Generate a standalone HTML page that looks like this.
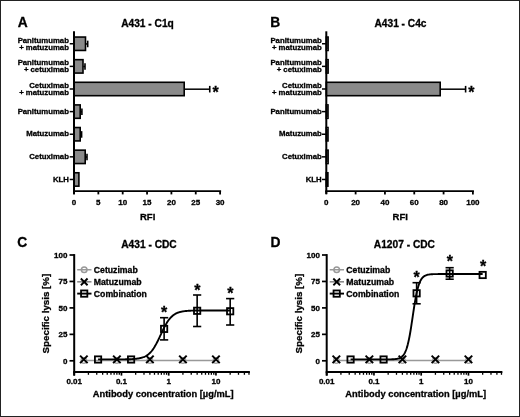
<!DOCTYPE html>
<html><head><meta charset="utf-8"><title>Figure</title>
<style>
html,body{margin:0;padding:0;background:#fff;}
body{width:520px;height:417px;overflow:hidden;}
svg{display:block;font-family:"Liberation Sans",sans-serif;font-weight:bold;fill:#000;} text{stroke:#000;stroke-width:0.3px;}
</style></head><body>
<svg width="520" height="417" viewBox="0 0 520 417">
<rect x="0" y="0" width="520" height="417" fill="#fff"/>
<line x1="85.80" y1="43.95" x2="87.70" y2="43.95" stroke="#000" stroke-width="1.5" />
<line x1="87.70" y1="40.65" x2="87.70" y2="47.25" stroke="#000" stroke-width="1.6" />
<rect x="74.00" y="37.05" width="11.50" height="13.4" fill="#8a8a8a" stroke="#000" stroke-width="1.6"/>
<line x1="69.70" y1="43.75" x2="74.00" y2="43.75" stroke="#000" stroke-width="1.5" />
<text x="68.90" y="43.25" font-size="7.75" text-anchor="end" >Panitumumab</text>
<text x="68.90" y="50.25" font-size="7.75" text-anchor="end" >+ matuzumab</text>
<line x1="83.30" y1="66.57" x2="85.00" y2="66.57" stroke="#000" stroke-width="1.5" />
<line x1="85.00" y1="63.27" x2="85.00" y2="69.87" stroke="#000" stroke-width="1.6" />
<rect x="74.00" y="59.67" width="9.00" height="13.4" fill="#8a8a8a" stroke="#000" stroke-width="1.6"/>
<line x1="69.70" y1="66.37" x2="74.00" y2="66.37" stroke="#000" stroke-width="1.5" />
<text x="68.90" y="65.07" font-size="7.75" text-anchor="end" >Panitumumab</text>
<text x="68.90" y="72.07" font-size="7.75" text-anchor="end" >+ cetuximab</text>
<line x1="184.50" y1="89.19" x2="209.75" y2="89.19" stroke="#000" stroke-width="1.5" />
<line x1="209.75" y1="85.89" x2="209.75" y2="92.49" stroke="#000" stroke-width="1.6" />
<rect x="74.00" y="82.29" width="110.20" height="13.4" fill="#8a8a8a" stroke="#000" stroke-width="1.6"/>
<line x1="69.70" y1="88.99" x2="74.00" y2="88.99" stroke="#000" stroke-width="1.5" />
<text x="68.90" y="87.69" font-size="7.75" text-anchor="end" >Cetuximab</text>
<text x="68.90" y="94.69" font-size="7.75" text-anchor="end" >+ matuzumab</text>
<line x1="80.50" y1="111.81" x2="81.90" y2="111.81" stroke="#000" stroke-width="1.5" />
<line x1="81.90" y1="108.51" x2="81.90" y2="115.11" stroke="#000" stroke-width="1.6" />
<rect x="74.00" y="104.91" width="6.20" height="13.4" fill="#8a8a8a" stroke="#000" stroke-width="1.6"/>
<line x1="69.70" y1="111.61" x2="74.00" y2="111.61" stroke="#000" stroke-width="1.5" />
<text x="68.90" y="114.06" font-size="7.75" text-anchor="end" >Panitumumab</text>
<line x1="80.50" y1="134.43" x2="81.60" y2="134.43" stroke="#000" stroke-width="1.5" />
<line x1="81.60" y1="131.13" x2="81.60" y2="137.73" stroke="#000" stroke-width="1.6" />
<rect x="74.00" y="127.53" width="6.20" height="13.4" fill="#8a8a8a" stroke="#000" stroke-width="1.6"/>
<line x1="69.70" y1="134.23" x2="74.00" y2="134.23" stroke="#000" stroke-width="1.5" />
<text x="68.90" y="135.98" font-size="7.75" text-anchor="end" >Matuzumab</text>
<line x1="85.50" y1="157.05" x2="87.00" y2="157.05" stroke="#000" stroke-width="1.5" />
<line x1="87.00" y1="153.75" x2="87.00" y2="160.35" stroke="#000" stroke-width="1.6" />
<rect x="74.00" y="150.15" width="11.20" height="13.4" fill="#8a8a8a" stroke="#000" stroke-width="1.6"/>
<line x1="69.70" y1="156.85" x2="74.00" y2="156.85" stroke="#000" stroke-width="1.5" />
<text x="68.90" y="159.00" font-size="7.75" text-anchor="end" >Cetuximab</text>
<rect x="74.00" y="172.77" width="4.90" height="13.4" fill="#8a8a8a" stroke="#000" stroke-width="1.6"/>
<line x1="69.70" y1="179.47" x2="74.00" y2="179.47" stroke="#000" stroke-width="1.5" />
<text x="68.90" y="181.92" font-size="7.75" text-anchor="end" >KLH</text>
<line x1="74.00" y1="31.30" x2="74.00" y2="193.90" stroke="#000" stroke-width="2.0" />
<line x1="73.00" y1="191.10" x2="221.10" y2="191.10" stroke="#000" stroke-width="1.8" />
<line x1="74.00" y1="191.10" x2="74.00" y2="194.40" stroke="#000" stroke-width="1.8" />
<text x="74.00" y="204.90" font-size="8.0" text-anchor="middle" >0</text>
<line x1="98.35" y1="191.10" x2="98.35" y2="194.40" stroke="#000" stroke-width="1.8" />
<text x="98.35" y="204.90" font-size="8.0" text-anchor="middle" >5</text>
<line x1="122.70" y1="191.10" x2="122.70" y2="194.40" stroke="#000" stroke-width="1.8" />
<text x="122.70" y="204.90" font-size="8.0" text-anchor="middle" >10</text>
<line x1="147.05" y1="191.10" x2="147.05" y2="194.40" stroke="#000" stroke-width="1.8" />
<text x="147.05" y="204.90" font-size="8.0" text-anchor="middle" >15</text>
<line x1="171.40" y1="191.10" x2="171.40" y2="194.40" stroke="#000" stroke-width="1.8" />
<text x="171.40" y="204.90" font-size="8.0" text-anchor="middle" >20</text>
<line x1="195.75" y1="191.10" x2="195.75" y2="194.40" stroke="#000" stroke-width="1.8" />
<text x="195.75" y="204.90" font-size="8.0" text-anchor="middle" >25</text>
<line x1="220.10" y1="191.10" x2="220.10" y2="194.40" stroke="#000" stroke-width="1.8" />
<text x="220.10" y="204.90" font-size="8.0" text-anchor="middle" >30</text>
<text x="147.65" y="220.30" font-size="9.5" text-anchor="middle" >RFI</text>
<text x="147.50" y="27.40" font-size="10.2" text-anchor="middle" >A431 - C1q</text>
<text x="17.70" y="27.40" font-size="13.8" text-anchor="start" >A</text>
<text x="215.50" y="98.30" font-size="16" text-anchor="middle" >*</text>
<rect x="326.30" y="37.05" width="1.80" height="13.4" fill="#8a8a8a" stroke="#000" stroke-width="1.6"/>
<line x1="322.00" y1="43.75" x2="326.30" y2="43.75" stroke="#000" stroke-width="1.5" />
<text x="321.70" y="43.25" font-size="7.75" text-anchor="end" >Panitumumab</text>
<text x="321.70" y="50.25" font-size="7.75" text-anchor="end" >+ matuzumab</text>
<rect x="326.30" y="59.67" width="1.80" height="13.4" fill="#8a8a8a" stroke="#000" stroke-width="1.6"/>
<line x1="322.00" y1="66.37" x2="326.30" y2="66.37" stroke="#000" stroke-width="1.5" />
<text x="321.70" y="65.07" font-size="7.75" text-anchor="end" >Panitumumab</text>
<text x="321.70" y="72.07" font-size="7.75" text-anchor="end" >+ cetuximab</text>
<line x1="440.50" y1="89.19" x2="465.60" y2="89.19" stroke="#000" stroke-width="1.5" />
<line x1="465.60" y1="85.89" x2="465.60" y2="92.49" stroke="#000" stroke-width="1.6" />
<rect x="326.30" y="82.29" width="113.90" height="13.4" fill="#8a8a8a" stroke="#000" stroke-width="1.6"/>
<line x1="322.00" y1="88.99" x2="326.30" y2="88.99" stroke="#000" stroke-width="1.5" />
<text x="321.70" y="87.69" font-size="7.75" text-anchor="end" >Cetuximab</text>
<text x="321.70" y="94.69" font-size="7.75" text-anchor="end" >+ matuzumab</text>
<rect x="326.30" y="104.91" width="1.70" height="13.4" fill="#8a8a8a" stroke="#000" stroke-width="1.6"/>
<line x1="322.00" y1="111.61" x2="326.30" y2="111.61" stroke="#000" stroke-width="1.5" />
<text x="321.70" y="114.06" font-size="7.75" text-anchor="end" >Panitumumab</text>
<rect x="326.30" y="127.53" width="1.70" height="13.4" fill="#8a8a8a" stroke="#000" stroke-width="1.6"/>
<line x1="322.00" y1="134.23" x2="326.30" y2="134.23" stroke="#000" stroke-width="1.5" />
<text x="321.70" y="135.98" font-size="7.75" text-anchor="end" >Matuzumab</text>
<rect x="326.30" y="150.15" width="1.80" height="13.4" fill="#8a8a8a" stroke="#000" stroke-width="1.6"/>
<line x1="322.00" y1="156.85" x2="326.30" y2="156.85" stroke="#000" stroke-width="1.5" />
<text x="321.70" y="159.00" font-size="7.75" text-anchor="end" >Cetuximab</text>
<rect x="326.30" y="172.77" width="1.60" height="13.4" fill="#8a8a8a" stroke="#000" stroke-width="1.6"/>
<line x1="322.00" y1="179.47" x2="326.30" y2="179.47" stroke="#000" stroke-width="1.5" />
<text x="321.70" y="181.92" font-size="7.75" text-anchor="end" >KLH</text>
<line x1="326.30" y1="31.30" x2="326.30" y2="193.90" stroke="#000" stroke-width="2.0" />
<line x1="325.30" y1="191.10" x2="473.90" y2="191.10" stroke="#000" stroke-width="1.8" />
<line x1="326.30" y1="191.10" x2="326.30" y2="194.40" stroke="#000" stroke-width="1.8" />
<text x="326.30" y="204.90" font-size="8.0" text-anchor="middle" >0</text>
<line x1="355.62" y1="191.10" x2="355.62" y2="194.40" stroke="#000" stroke-width="1.8" />
<text x="355.62" y="204.90" font-size="8.0" text-anchor="middle" >20</text>
<line x1="384.94" y1="191.10" x2="384.94" y2="194.40" stroke="#000" stroke-width="1.8" />
<text x="384.94" y="204.90" font-size="8.0" text-anchor="middle" >40</text>
<line x1="414.26" y1="191.10" x2="414.26" y2="194.40" stroke="#000" stroke-width="1.8" />
<text x="414.26" y="204.90" font-size="8.0" text-anchor="middle" >60</text>
<line x1="443.58" y1="191.10" x2="443.58" y2="194.40" stroke="#000" stroke-width="1.8" />
<text x="443.58" y="204.90" font-size="8.0" text-anchor="middle" >80</text>
<line x1="472.90" y1="191.10" x2="472.90" y2="194.40" stroke="#000" stroke-width="1.8" />
<text x="472.90" y="204.90" font-size="8.0" text-anchor="middle" >100</text>
<text x="400.20" y="220.30" font-size="9.5" text-anchor="middle" >RFI</text>
<text x="400.50" y="27.40" font-size="10.2" text-anchor="middle" >A431 - C4c</text>
<text x="270.30" y="27.40" font-size="13.8" text-anchor="start" >B</text>
<text x="471.30" y="98.30" font-size="16" text-anchor="middle" >*</text>
<line x1="83.84" y1="360.50" x2="215.95" y2="360.50" stroke="#999" stroke-width="1.3" />
<circle cx="83.84" cy="360.50" r="2.8" fill="none" stroke="#a0a0a0" stroke-width="1.3"/>
<circle cx="116.87" cy="360.50" r="2.8" fill="none" stroke="#a0a0a0" stroke-width="1.3"/>
<circle cx="149.90" cy="360.50" r="2.8" fill="none" stroke="#a0a0a0" stroke-width="1.3"/>
<circle cx="182.92" cy="360.50" r="2.8" fill="none" stroke="#a0a0a0" stroke-width="1.3"/>
<circle cx="215.95" cy="360.50" r="2.8" fill="none" stroke="#a0a0a0" stroke-width="1.3"/>
<polyline points="98.07,359.42 98.62,359.42 99.17,359.42 99.72,359.42 100.27,359.42 100.82,359.42 101.37,359.42 101.92,359.42 102.47,359.42 103.02,359.42 103.57,359.42 104.12,359.42 104.67,359.42 105.22,359.42 105.77,359.42 106.32,359.42 106.88,359.42 107.43,359.42 107.98,359.42 108.53,359.42 109.08,359.42 109.63,359.42 110.18,359.42 110.73,359.42 111.28,359.42 111.83,359.42 112.38,359.41 112.93,359.41 113.48,359.41 114.03,359.41 114.58,359.41 115.13,359.41 115.68,359.41 116.23,359.40 116.78,359.40 117.33,359.40 117.88,359.40 118.43,359.39 118.99,359.39 119.54,359.39 120.09,359.38 120.64,359.38 121.19,359.38 121.74,359.37 122.29,359.37 122.84,359.36 123.39,359.35 123.94,359.35 124.49,359.34 125.04,359.33 125.59,359.32 126.14,359.31 126.69,359.30 127.24,359.29 127.79,359.27 128.34,359.26 128.89,359.24 129.44,359.22 129.99,359.20 130.54,359.18 131.09,359.15 131.65,359.12 132.20,359.09 132.75,359.06 133.30,359.02 133.85,358.98 134.40,358.94 134.95,358.89 135.50,358.84 136.05,358.78 136.60,358.71 137.15,358.64 137.70,358.56 138.25,358.48 138.80,358.38 139.35,358.28 139.90,358.17 140.45,358.04 141.00,357.91 141.55,357.76 142.10,357.60 142.65,357.42 143.20,357.23 143.75,357.01 144.31,356.78 144.86,356.53 145.41,356.26 145.96,355.96 146.51,355.63 147.06,355.28 147.61,354.90 148.16,354.49 148.71,354.04 149.26,353.56 149.81,353.05 150.36,352.49 150.91,351.90 151.46,351.26 152.01,350.58 152.56,349.86 153.11,349.10 153.66,348.29 154.21,347.43 154.76,346.54 155.31,345.60 155.86,344.62 156.41,343.61 156.97,342.55 157.52,341.47 158.07,340.36 158.62,339.22 159.17,338.07 159.72,336.90 160.27,335.72 160.82,334.54 161.37,333.36 161.92,332.18 162.47,331.02 163.02,329.88 163.57,328.76 164.12,327.67 164.67,326.60 165.22,325.58 165.77,324.59 166.32,323.63 166.87,322.72 167.42,321.86 167.97,321.03 168.52,320.25 169.07,319.52 169.63,318.82 170.18,318.17 170.73,317.57 171.28,317.00 171.83,316.47 172.38,315.98 172.93,315.52 173.48,315.10 174.03,314.70 174.58,314.34 175.13,314.01 175.68,313.70 176.23,313.42 176.78,313.16 177.33,312.92 177.88,312.71 178.43,312.51 178.98,312.32 179.53,312.16 180.08,312.00 180.63,311.86 181.18,311.74 181.74,311.62 182.29,311.51 182.84,311.42 183.39,311.33 183.94,311.25 184.49,311.17 185.04,311.11 185.59,311.05 186.14,310.99 186.69,310.94 187.24,310.90 187.79,310.85 188.34,310.82 188.89,310.78 189.44,310.75 189.99,310.72 190.54,310.70 191.09,310.67 191.64,310.65 192.19,310.63 192.74,310.61 193.29,310.60 193.84,310.58 194.40,310.57 194.95,310.56 195.50,310.55 196.05,310.54 196.60,310.53 197.15,310.52 197.70,310.51 198.25,310.51 198.80,310.50 199.35,310.49 199.90,310.49 200.45,310.48 201.00,310.48 201.55,310.48 202.10,310.47 202.65,310.47 203.20,310.47 203.75,310.46 204.30,310.46 204.85,310.46 205.40,310.46 205.95,310.46 206.50,310.45 207.06,310.45 207.61,310.45 208.16,310.45 208.71,310.45 209.26,310.45 209.81,310.45 210.36,310.45 210.91,310.45 211.46,310.45 212.01,310.45 212.56,310.44 213.11,310.44 213.66,310.44 214.21,310.44 214.76,310.44 215.31,310.44 215.86,310.44 216.41,310.44 216.96,310.44 217.51,310.44 218.06,310.44 218.61,310.44 219.16,310.44 219.72,310.44 220.27,310.44 220.82,310.44 221.37,310.44 221.92,310.44 222.47,310.44 223.02,310.44 223.57,310.44 224.12,310.44 224.67,310.44 225.22,310.44 225.77,310.44 226.32,310.44 226.87,310.44 227.42,310.44 227.97,310.44 228.52,310.44 229.07,310.44 229.62,310.44 230.17,310.44" fill="none" stroke="#000" stroke-width="1.9"/>
<line x1="80.79" y1="356.35" x2="86.89" y2="362.45" stroke="#000" stroke-width="2.0" stroke-linecap="square"/>
<line x1="80.79" y1="362.45" x2="86.89" y2="356.35" stroke="#000" stroke-width="2.0" stroke-linecap="square"/>
<line x1="113.82" y1="356.35" x2="119.92" y2="362.45" stroke="#000" stroke-width="2.0" stroke-linecap="square"/>
<line x1="113.82" y1="362.45" x2="119.92" y2="356.35" stroke="#000" stroke-width="2.0" stroke-linecap="square"/>
<line x1="146.85" y1="356.35" x2="152.95" y2="362.45" stroke="#000" stroke-width="2.0" stroke-linecap="square"/>
<line x1="146.85" y1="362.45" x2="152.95" y2="356.35" stroke="#000" stroke-width="2.0" stroke-linecap="square"/>
<line x1="179.87" y1="356.35" x2="185.97" y2="362.45" stroke="#000" stroke-width="2.0" stroke-linecap="square"/>
<line x1="179.87" y1="362.45" x2="185.97" y2="356.35" stroke="#000" stroke-width="2.0" stroke-linecap="square"/>
<line x1="212.90" y1="356.35" x2="219.00" y2="362.45" stroke="#000" stroke-width="2.0" stroke-linecap="square"/>
<line x1="212.90" y1="362.45" x2="219.00" y2="356.35" stroke="#000" stroke-width="2.0" stroke-linecap="square"/>
<rect x="94.92" y="356.35" width="6.3" height="6.3" fill="none" stroke="#000" stroke-width="1.8"/>
<rect x="127.94" y="356.35" width="6.3" height="6.3" fill="none" stroke="#000" stroke-width="1.8"/>
<line x1="164.12" y1="317.70" x2="164.12" y2="339.90" stroke="#000" stroke-width="1.6" />
<line x1="160.02" y1="317.70" x2="168.22" y2="317.70" stroke="#000" stroke-width="1.6" />
<line x1="160.02" y1="339.90" x2="168.22" y2="339.90" stroke="#000" stroke-width="1.6" />
<rect x="160.97" y="325.75" width="6.3" height="6.3" fill="none" stroke="#000" stroke-width="1.8"/>
<line x1="197.15" y1="295.00" x2="197.15" y2="326.50" stroke="#000" stroke-width="1.6" />
<line x1="193.05" y1="295.00" x2="201.25" y2="295.00" stroke="#000" stroke-width="1.6" />
<line x1="193.05" y1="326.50" x2="201.25" y2="326.50" stroke="#000" stroke-width="1.6" />
<rect x="194.00" y="307.65" width="6.3" height="6.3" fill="none" stroke="#000" stroke-width="1.8"/>
<line x1="230.17" y1="298.60" x2="230.17" y2="325.00" stroke="#000" stroke-width="1.6" />
<line x1="226.07" y1="298.60" x2="234.27" y2="298.60" stroke="#000" stroke-width="1.6" />
<line x1="226.07" y1="325.00" x2="234.27" y2="325.00" stroke="#000" stroke-width="1.6" />
<rect x="227.02" y="308.10" width="6.3" height="6.3" fill="none" stroke="#000" stroke-width="1.8"/>
<text x="164.10" y="317.80" font-size="16" text-anchor="middle" >*</text>
<text x="197.30" y="295.60" font-size="16" text-anchor="middle" >*</text>
<text x="230.30" y="298.60" font-size="16" text-anchor="middle" >*</text>
<line x1="74.20" y1="254.10" x2="74.20" y2="375.60" stroke="#000" stroke-width="2.0" />
<line x1="73.20" y1="372.00" x2="249.88" y2="372.00" stroke="#000" stroke-width="1.8" />
<line x1="69.50" y1="360.80" x2="74.20" y2="360.80" stroke="#000" stroke-width="1.7" />
<text x="67.40" y="363.80" font-size="8.0" text-anchor="end" >0</text>
<line x1="69.50" y1="334.35" x2="74.20" y2="334.35" stroke="#000" stroke-width="1.7" />
<text x="67.40" y="337.35" font-size="8.0" text-anchor="end" >25</text>
<line x1="69.50" y1="307.90" x2="74.20" y2="307.90" stroke="#000" stroke-width="1.7" />
<text x="67.40" y="310.90" font-size="8.0" text-anchor="end" >50</text>
<line x1="69.50" y1="281.45" x2="74.20" y2="281.45" stroke="#000" stroke-width="1.7" />
<text x="67.40" y="284.45" font-size="8.0" text-anchor="end" >75</text>
<line x1="69.50" y1="255.00" x2="74.20" y2="255.00" stroke="#000" stroke-width="1.7" />
<text x="67.40" y="258.00" font-size="8.0" text-anchor="end" >100</text>
<line x1="74.20" y1="372.00" x2="74.20" y2="375.60" stroke="#000" stroke-width="1.7" />
<line x1="88.42" y1="372.00" x2="88.42" y2="374.80" stroke="#000" stroke-width="1.3" />
<line x1="96.74" y1="372.00" x2="96.74" y2="374.80" stroke="#000" stroke-width="1.3" />
<line x1="102.65" y1="372.00" x2="102.65" y2="374.80" stroke="#000" stroke-width="1.3" />
<line x1="107.23" y1="372.00" x2="107.23" y2="374.80" stroke="#000" stroke-width="1.3" />
<line x1="110.97" y1="372.00" x2="110.97" y2="374.80" stroke="#000" stroke-width="1.3" />
<line x1="114.13" y1="372.00" x2="114.13" y2="374.80" stroke="#000" stroke-width="1.3" />
<line x1="116.87" y1="372.00" x2="116.87" y2="374.80" stroke="#000" stroke-width="1.3" />
<line x1="119.29" y1="372.00" x2="119.29" y2="374.80" stroke="#000" stroke-width="1.3" />
<line x1="121.45" y1="372.00" x2="121.45" y2="375.60" stroke="#000" stroke-width="1.7" />
<line x1="135.67" y1="372.00" x2="135.67" y2="374.80" stroke="#000" stroke-width="1.3" />
<line x1="143.99" y1="372.00" x2="143.99" y2="374.80" stroke="#000" stroke-width="1.3" />
<line x1="149.90" y1="372.00" x2="149.90" y2="374.80" stroke="#000" stroke-width="1.3" />
<line x1="154.48" y1="372.00" x2="154.48" y2="374.80" stroke="#000" stroke-width="1.3" />
<line x1="158.22" y1="372.00" x2="158.22" y2="374.80" stroke="#000" stroke-width="1.3" />
<line x1="161.38" y1="372.00" x2="161.38" y2="374.80" stroke="#000" stroke-width="1.3" />
<line x1="164.12" y1="372.00" x2="164.12" y2="374.80" stroke="#000" stroke-width="1.3" />
<line x1="166.54" y1="372.00" x2="166.54" y2="374.80" stroke="#000" stroke-width="1.3" />
<line x1="168.70" y1="372.00" x2="168.70" y2="375.60" stroke="#000" stroke-width="1.7" />
<line x1="182.92" y1="372.00" x2="182.92" y2="374.80" stroke="#000" stroke-width="1.3" />
<line x1="191.24" y1="372.00" x2="191.24" y2="374.80" stroke="#000" stroke-width="1.3" />
<line x1="197.15" y1="372.00" x2="197.15" y2="374.80" stroke="#000" stroke-width="1.3" />
<line x1="201.73" y1="372.00" x2="201.73" y2="374.80" stroke="#000" stroke-width="1.3" />
<line x1="205.47" y1="372.00" x2="205.47" y2="374.80" stroke="#000" stroke-width="1.3" />
<line x1="208.63" y1="372.00" x2="208.63" y2="374.80" stroke="#000" stroke-width="1.3" />
<line x1="211.37" y1="372.00" x2="211.37" y2="374.80" stroke="#000" stroke-width="1.3" />
<line x1="213.79" y1="372.00" x2="213.79" y2="374.80" stroke="#000" stroke-width="1.3" />
<line x1="215.95" y1="372.00" x2="215.95" y2="375.60" stroke="#000" stroke-width="1.7" />
<line x1="230.17" y1="372.00" x2="230.17" y2="374.80" stroke="#000" stroke-width="1.3" />
<line x1="238.49" y1="372.00" x2="238.49" y2="374.80" stroke="#000" stroke-width="1.3" />
<line x1="244.40" y1="372.00" x2="244.40" y2="374.80" stroke="#000" stroke-width="1.3" />
<line x1="248.98" y1="372.00" x2="248.98" y2="374.80" stroke="#000" stroke-width="1.3" />
<text x="74.20" y="384.10" font-size="8.0" text-anchor="middle" >0.01</text>
<text x="121.45" y="384.10" font-size="8.0" text-anchor="middle" >0.1</text>
<text x="168.70" y="384.10" font-size="8.0" text-anchor="middle" >1</text>
<text x="215.95" y="384.10" font-size="8.0" text-anchor="middle" >10</text>
<text x="163.20" y="397.10" font-size="9.3" text-anchor="middle" >Antibody concentration [µg/mL]</text>
<text transform="translate(49.00,313.60) rotate(-90)" font-size="9.75" text-anchor="middle">Specific lysis [%]</text>
<text x="149.00" y="248.00" font-size="10.2" text-anchor="middle" >A431 - CDC</text>
<text x="17.20" y="247.40" font-size="13.8" text-anchor="start" >C</text>
<line x1="77.20" y1="269.75" x2="91.50" y2="269.75" stroke="#999" stroke-width="1.5" />
<circle cx="84.20" cy="269.75" r="2.8" fill="none" stroke="#999" stroke-width="1.5"/>
<line x1="77.20" y1="281.85" x2="91.50" y2="281.85" stroke="#666" stroke-width="1.2" />
<line x1="81.50" y1="279.15" x2="86.90" y2="284.55" stroke="#000" stroke-width="1.9" stroke-linecap="square"/>
<line x1="81.50" y1="284.55" x2="86.90" y2="279.15" stroke="#000" stroke-width="1.9" stroke-linecap="square"/>
<line x1="77.20" y1="293.60" x2="91.50" y2="293.60" stroke="#000" stroke-width="1.9" />
<rect x="81.05" y="290.45" width="6.3" height="6.3" fill="none" stroke="#000" stroke-width="1.8"/>
<text x="93.80" y="272.65" font-size="8.7" text-anchor="start" >Cetuzimab</text>
<text x="93.80" y="284.75" font-size="8.7" text-anchor="start" >Matuzumab</text>
<text x="93.80" y="296.50" font-size="8.7" text-anchor="start" >Combination</text>
<line x1="336.34" y1="360.50" x2="468.45" y2="360.50" stroke="#999" stroke-width="1.3" />
<circle cx="336.34" cy="360.50" r="2.8" fill="none" stroke="#a0a0a0" stroke-width="1.3"/>
<circle cx="369.37" cy="360.50" r="2.8" fill="none" stroke="#a0a0a0" stroke-width="1.3"/>
<circle cx="402.40" cy="360.50" r="2.8" fill="none" stroke="#a0a0a0" stroke-width="1.3"/>
<circle cx="435.42" cy="360.50" r="2.8" fill="none" stroke="#a0a0a0" stroke-width="1.3"/>
<circle cx="468.45" cy="360.50" r="2.8" fill="none" stroke="#a0a0a0" stroke-width="1.3"/>
<polyline points="350.57,359.42 351.12,359.42 351.67,359.42 352.22,359.42 352.77,359.42 353.32,359.42 353.87,359.42 354.42,359.42 354.97,359.42 355.52,359.42 356.07,359.42 356.62,359.42 357.17,359.42 357.72,359.42 358.27,359.42 358.82,359.42 359.38,359.42 359.93,359.42 360.48,359.42 361.03,359.42 361.58,359.42 362.13,359.42 362.68,359.42 363.23,359.42 363.78,359.42 364.33,359.42 364.88,359.42 365.43,359.42 365.98,359.42 366.53,359.42 367.08,359.42 367.63,359.42 368.18,359.42 368.73,359.42 369.28,359.42 369.83,359.42 370.38,359.42 370.93,359.42 371.49,359.42 372.04,359.42 372.59,359.42 373.14,359.42 373.69,359.42 374.24,359.42 374.79,359.42 375.34,359.42 375.89,359.42 376.44,359.42 376.99,359.42 377.54,359.42 378.09,359.42 378.64,359.42 379.19,359.42 379.74,359.42 380.29,359.42 380.84,359.42 381.39,359.42 381.94,359.42 382.49,359.42 383.04,359.42 383.59,359.42 384.15,359.41 384.70,359.41 385.25,359.41 385.80,359.41 386.35,359.40 386.90,359.40 387.45,359.40 388.00,359.39 388.55,359.38 389.10,359.38 389.65,359.37 390.20,359.36 390.75,359.34 391.30,359.33 391.85,359.31 392.40,359.29 392.95,359.26 393.50,359.23 394.05,359.19 394.60,359.15 395.15,359.09 395.70,359.03 396.25,358.96 396.81,358.87 397.36,358.76 397.91,358.64 398.46,358.49 399.01,358.31 399.56,358.11 400.11,357.86 400.66,357.57 401.21,357.22 401.76,356.82 402.31,356.34 402.86,355.77 403.41,355.11 403.96,354.34 404.51,353.44 405.06,352.39 405.61,351.19 406.16,349.79 406.71,348.20 407.26,346.39 407.81,344.34 408.36,342.05 408.91,339.52 409.47,336.73 410.02,333.71 410.57,330.48 411.12,327.05 411.67,323.48 412.22,319.81 412.77,316.10 413.32,312.39 413.87,308.75 414.42,305.22 414.97,301.86 415.52,298.69 416.07,295.75 416.62,293.05 417.17,290.60 417.72,288.40 418.27,286.43 418.82,284.70 419.37,283.18 419.92,281.85 420.47,280.70 421.02,279.70 421.57,278.85 422.13,278.12 422.68,277.49 423.23,276.96 423.78,276.51 424.33,276.12 424.88,275.80 425.43,275.52 425.98,275.29 426.53,275.09 427.08,274.93 427.63,274.79 428.18,274.67 428.73,274.57 429.28,274.49 429.83,274.41 430.38,274.36 430.93,274.31 431.48,274.26 432.03,274.23 432.58,274.20 433.13,274.17 433.68,274.15 434.24,274.14 434.79,274.12 435.34,274.11 435.89,274.10 436.44,274.09 436.99,274.08 437.54,274.08 438.09,274.07 438.64,274.07 439.19,274.06 439.74,274.06 440.29,274.06 440.84,274.06 441.39,274.05 441.94,274.05 442.49,274.05 443.04,274.05 443.59,274.05 444.14,274.05 444.69,274.05 445.24,274.05 445.79,274.05 446.34,274.05 446.90,274.05 447.45,274.05 448.00,274.05 448.55,274.04 449.10,274.04 449.65,274.04 450.20,274.04 450.75,274.04 451.30,274.04 451.85,274.04 452.40,274.04 452.95,274.04 453.50,274.04 454.05,274.04 454.60,274.04 455.15,274.04 455.70,274.04 456.25,274.04 456.80,274.04 457.35,274.04 457.90,274.04 458.45,274.04 459.00,274.04 459.56,274.04 460.11,274.04 460.66,274.04 461.21,274.04 461.76,274.04 462.31,274.04 462.86,274.04 463.41,274.04 463.96,274.04 464.51,274.04 465.06,274.04 465.61,274.04 466.16,274.04 466.71,274.04 467.26,274.04 467.81,274.04 468.36,274.04 468.91,274.04 469.46,274.04 470.01,274.04 470.56,274.04 471.11,274.04 471.66,274.04 472.22,274.04 472.77,274.04 473.32,274.04 473.87,274.04 474.42,274.04 474.97,274.04 475.52,274.04 476.07,274.04 476.62,274.04 477.17,274.04 477.72,274.04 478.27,274.04 478.82,274.04 479.37,274.04 479.92,274.04 480.47,274.04 481.02,274.04 481.57,274.04 482.12,274.04 482.67,274.04" fill="none" stroke="#000" stroke-width="1.9"/>
<line x1="333.29" y1="356.35" x2="339.39" y2="362.45" stroke="#000" stroke-width="2.0" stroke-linecap="square"/>
<line x1="333.29" y1="362.45" x2="339.39" y2="356.35" stroke="#000" stroke-width="2.0" stroke-linecap="square"/>
<line x1="366.32" y1="356.35" x2="372.42" y2="362.45" stroke="#000" stroke-width="2.0" stroke-linecap="square"/>
<line x1="366.32" y1="362.45" x2="372.42" y2="356.35" stroke="#000" stroke-width="2.0" stroke-linecap="square"/>
<line x1="399.35" y1="356.35" x2="405.45" y2="362.45" stroke="#000" stroke-width="2.0" stroke-linecap="square"/>
<line x1="399.35" y1="362.45" x2="405.45" y2="356.35" stroke="#000" stroke-width="2.0" stroke-linecap="square"/>
<line x1="432.37" y1="356.35" x2="438.47" y2="362.45" stroke="#000" stroke-width="2.0" stroke-linecap="square"/>
<line x1="432.37" y1="362.45" x2="438.47" y2="356.35" stroke="#000" stroke-width="2.0" stroke-linecap="square"/>
<line x1="465.40" y1="356.35" x2="471.50" y2="362.45" stroke="#000" stroke-width="2.0" stroke-linecap="square"/>
<line x1="465.40" y1="362.45" x2="471.50" y2="356.35" stroke="#000" stroke-width="2.0" stroke-linecap="square"/>
<rect x="347.42" y="356.35" width="6.3" height="6.3" fill="none" stroke="#000" stroke-width="1.8"/>
<rect x="380.44" y="356.35" width="6.3" height="6.3" fill="none" stroke="#000" stroke-width="1.8"/>
<line x1="416.62" y1="282.70" x2="416.62" y2="303.80" stroke="#000" stroke-width="1.6" />
<line x1="412.52" y1="282.70" x2="420.72" y2="282.70" stroke="#000" stroke-width="1.6" />
<line x1="412.52" y1="303.80" x2="420.72" y2="303.80" stroke="#000" stroke-width="1.6" />
<rect x="413.47" y="290.15" width="6.3" height="6.3" fill="none" stroke="#000" stroke-width="1.8"/>
<line x1="449.65" y1="267.70" x2="449.65" y2="279.20" stroke="#000" stroke-width="1.6" />
<line x1="445.55" y1="267.70" x2="453.75" y2="267.70" stroke="#000" stroke-width="1.6" />
<line x1="445.55" y1="279.20" x2="453.75" y2="279.20" stroke="#000" stroke-width="1.6" />
<rect x="446.50" y="270.35" width="6.3" height="6.3" fill="none" stroke="#000" stroke-width="1.8"/>
<rect x="479.52" y="271.85" width="6.3" height="6.3" fill="none" stroke="#000" stroke-width="1.8"/>
<text x="416.70" y="282.60" font-size="16" text-anchor="middle" >*</text>
<text x="449.80" y="267.30" font-size="16" text-anchor="middle" >*</text>
<text x="483.10" y="272.10" font-size="16" text-anchor="middle" >*</text>
<line x1="326.70" y1="254.10" x2="326.70" y2="375.60" stroke="#000" stroke-width="2.0" />
<line x1="325.70" y1="372.00" x2="502.38" y2="372.00" stroke="#000" stroke-width="1.8" />
<line x1="322.00" y1="360.80" x2="326.70" y2="360.80" stroke="#000" stroke-width="1.7" />
<text x="319.90" y="363.80" font-size="8.0" text-anchor="end" >0</text>
<line x1="322.00" y1="334.35" x2="326.70" y2="334.35" stroke="#000" stroke-width="1.7" />
<text x="319.90" y="337.35" font-size="8.0" text-anchor="end" >25</text>
<line x1="322.00" y1="307.90" x2="326.70" y2="307.90" stroke="#000" stroke-width="1.7" />
<text x="319.90" y="310.90" font-size="8.0" text-anchor="end" >50</text>
<line x1="322.00" y1="281.45" x2="326.70" y2="281.45" stroke="#000" stroke-width="1.7" />
<text x="319.90" y="284.45" font-size="8.0" text-anchor="end" >75</text>
<line x1="322.00" y1="255.00" x2="326.70" y2="255.00" stroke="#000" stroke-width="1.7" />
<text x="319.90" y="258.00" font-size="8.0" text-anchor="end" >100</text>
<line x1="326.70" y1="372.00" x2="326.70" y2="375.60" stroke="#000" stroke-width="1.7" />
<line x1="340.92" y1="372.00" x2="340.92" y2="374.80" stroke="#000" stroke-width="1.3" />
<line x1="349.24" y1="372.00" x2="349.24" y2="374.80" stroke="#000" stroke-width="1.3" />
<line x1="355.15" y1="372.00" x2="355.15" y2="374.80" stroke="#000" stroke-width="1.3" />
<line x1="359.73" y1="372.00" x2="359.73" y2="374.80" stroke="#000" stroke-width="1.3" />
<line x1="363.47" y1="372.00" x2="363.47" y2="374.80" stroke="#000" stroke-width="1.3" />
<line x1="366.63" y1="372.00" x2="366.63" y2="374.80" stroke="#000" stroke-width="1.3" />
<line x1="369.37" y1="372.00" x2="369.37" y2="374.80" stroke="#000" stroke-width="1.3" />
<line x1="371.79" y1="372.00" x2="371.79" y2="374.80" stroke="#000" stroke-width="1.3" />
<line x1="373.95" y1="372.00" x2="373.95" y2="375.60" stroke="#000" stroke-width="1.7" />
<line x1="388.17" y1="372.00" x2="388.17" y2="374.80" stroke="#000" stroke-width="1.3" />
<line x1="396.49" y1="372.00" x2="396.49" y2="374.80" stroke="#000" stroke-width="1.3" />
<line x1="402.40" y1="372.00" x2="402.40" y2="374.80" stroke="#000" stroke-width="1.3" />
<line x1="406.98" y1="372.00" x2="406.98" y2="374.80" stroke="#000" stroke-width="1.3" />
<line x1="410.72" y1="372.00" x2="410.72" y2="374.80" stroke="#000" stroke-width="1.3" />
<line x1="413.88" y1="372.00" x2="413.88" y2="374.80" stroke="#000" stroke-width="1.3" />
<line x1="416.62" y1="372.00" x2="416.62" y2="374.80" stroke="#000" stroke-width="1.3" />
<line x1="419.04" y1="372.00" x2="419.04" y2="374.80" stroke="#000" stroke-width="1.3" />
<line x1="421.20" y1="372.00" x2="421.20" y2="375.60" stroke="#000" stroke-width="1.7" />
<line x1="435.42" y1="372.00" x2="435.42" y2="374.80" stroke="#000" stroke-width="1.3" />
<line x1="443.74" y1="372.00" x2="443.74" y2="374.80" stroke="#000" stroke-width="1.3" />
<line x1="449.65" y1="372.00" x2="449.65" y2="374.80" stroke="#000" stroke-width="1.3" />
<line x1="454.23" y1="372.00" x2="454.23" y2="374.80" stroke="#000" stroke-width="1.3" />
<line x1="457.97" y1="372.00" x2="457.97" y2="374.80" stroke="#000" stroke-width="1.3" />
<line x1="461.13" y1="372.00" x2="461.13" y2="374.80" stroke="#000" stroke-width="1.3" />
<line x1="463.87" y1="372.00" x2="463.87" y2="374.80" stroke="#000" stroke-width="1.3" />
<line x1="466.29" y1="372.00" x2="466.29" y2="374.80" stroke="#000" stroke-width="1.3" />
<line x1="468.45" y1="372.00" x2="468.45" y2="375.60" stroke="#000" stroke-width="1.7" />
<line x1="482.67" y1="372.00" x2="482.67" y2="374.80" stroke="#000" stroke-width="1.3" />
<line x1="490.99" y1="372.00" x2="490.99" y2="374.80" stroke="#000" stroke-width="1.3" />
<line x1="496.90" y1="372.00" x2="496.90" y2="374.80" stroke="#000" stroke-width="1.3" />
<line x1="501.48" y1="372.00" x2="501.48" y2="374.80" stroke="#000" stroke-width="1.3" />
<text x="326.70" y="384.10" font-size="8.0" text-anchor="middle" >0.01</text>
<text x="373.95" y="384.10" font-size="8.0" text-anchor="middle" >0.1</text>
<text x="421.20" y="384.10" font-size="8.0" text-anchor="middle" >1</text>
<text x="468.45" y="384.10" font-size="8.0" text-anchor="middle" >10</text>
<text x="415.70" y="397.10" font-size="9.3" text-anchor="middle" >Antibody concentration [µg/mL]</text>
<text transform="translate(301.50,313.60) rotate(-90)" font-size="9.75" text-anchor="middle">Specific lysis [%]</text>
<text x="404.40" y="248.00" font-size="10.2" text-anchor="middle" >A1207 - CDC</text>
<text x="270.50" y="247.40" font-size="13.8" text-anchor="start" >D</text>
<line x1="329.70" y1="269.75" x2="344.00" y2="269.75" stroke="#999" stroke-width="1.5" />
<circle cx="336.70" cy="269.75" r="2.8" fill="none" stroke="#999" stroke-width="1.5"/>
<line x1="329.70" y1="281.85" x2="344.00" y2="281.85" stroke="#666" stroke-width="1.2" />
<line x1="334.00" y1="279.15" x2="339.40" y2="284.55" stroke="#000" stroke-width="1.9" stroke-linecap="square"/>
<line x1="334.00" y1="284.55" x2="339.40" y2="279.15" stroke="#000" stroke-width="1.9" stroke-linecap="square"/>
<line x1="329.70" y1="293.60" x2="344.00" y2="293.60" stroke="#000" stroke-width="1.9" />
<rect x="333.55" y="290.45" width="6.3" height="6.3" fill="none" stroke="#000" stroke-width="1.8"/>
<text x="346.30" y="272.65" font-size="8.7" text-anchor="start" >Cetuzimab</text>
<text x="346.30" y="284.75" font-size="8.7" text-anchor="start" >Matuzumab</text>
<text x="346.30" y="296.50" font-size="8.7" text-anchor="start" >Combination</text>
<rect x="0" y="0" width="520" height="1" fill="#222"/><rect x="0" y="0" width="1" height="417" fill="#222"/><rect x="519" y="0" width="1" height="417" fill="#222"/><rect x="0" y="416" width="520" height="1" fill="#222"/>
</svg>
</body></html>
